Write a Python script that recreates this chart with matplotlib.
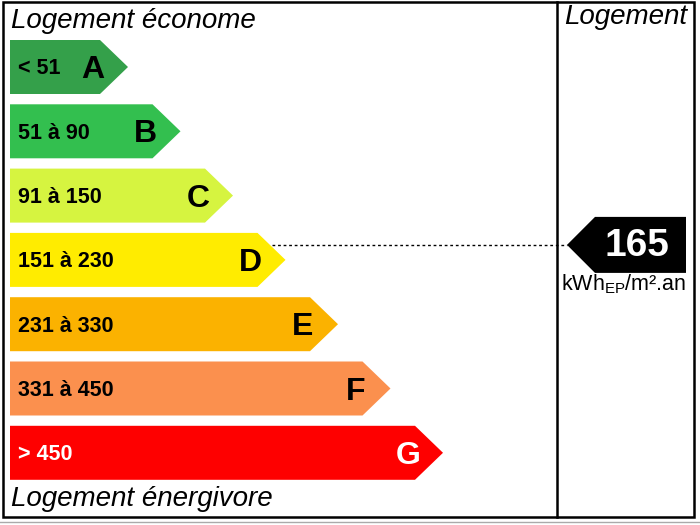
import matplotlib
matplotlib.use("Agg")
import matplotlib.pyplot as plt
from matplotlib.patches import Polygon, Rectangle

plt.rcParams['font.family'] = ['Liberation Sans', 'DejaVu Sans']

classes = ['A', 'B', 'C', 'D', 'E', 'F', 'G']
ranges = ['< 51', '51 à 90', '91 à 150', '151 à 230', '231 à 330', '331 à 450', '> 450']
lower = [0, 51, 91, 151, 231, 331, 451]
upper = [50, 90, 150, 230, 330, 450, 10000]
colors = ['#34a04a', '#33bf4f', '#d6f440', '#ffec00', '#fbb200', '#fb904e', '#fe0000']
text_colors = ['black', 'black', 'black', 'black', 'black', 'black', 'white']
value = 165

fig = plt.figure(figsize=(7, 5.25), dpi=100)
ax = fig.add_axes([0, 0, 1, 1])
ax.set_xlim(0, 700)
ax.set_ylim(525, 0)
ax.axis('off')

# frame
ax.add_patch(Rectangle((3, 2), 691, 515, fill=False, ec='black', lw=1.8))
ax.plot([557, 557], [2, 517], color='black', lw=1.8)
ax.plot([0, 700], [522, 522], color='#aaaaaa', lw=1)

x0 = 10
h = 54
gap = 64.3
top0 = 40
tip0 = 128
step = 52.5
depth = 28

for i, (c, r, col, tc) in enumerate(zip(classes, ranges, colors, text_colors)):
    y = top0 + i * gap
    tip = tip0 + i * step
    poly = Polygon([(x0, y), (tip - depth, y), (tip, y + h / 2),
                    (tip - depth, y + h), (x0, y + h)],
                   closed=True, fc=col, ec='none')
    ax.add_patch(poly)
    ax.text(x0 + 8, y + h / 2 + 2, r, ha='left', va='center',
            fontsize=15.5, fontweight='bold', color=tc)
    ax.text(tip - 35, y + h / 2 + 3, c, ha='center', va='center',
            fontsize=23, fontweight='bold', color=tc)

ax.text(11, 21, 'Logement économe', ha='left', va='center',
        fontsize=20, style='italic')
ax.text(11, 499, 'Logement énergivore', ha='left', va='center',
        fontsize=20, style='italic')
ax.text(626, 17, 'Logement', ha='center', va='center',
        fontsize=20, style='italic')

# marker for the value, next to its class
k = next(i for i in range(len(classes)) if lower[i] <= value <= upper[i])
ym = top0 + k * gap + 12
tip_k = tip0 + k * step
ax.plot([tip_k - 14, 567], [ym, ym], color='black', lw=1,
        linestyle=(0, (2, 2)))
ax.add_patch(Polygon([(567, ym), (567 + depth, ym - h / 2 - 1), (686, ym - h / 2 - 1),
                      (686, ym + h / 2 + 1), (567 + depth, ym + h / 2 + 1)],
                     closed=True, fc='black', ec='none'))
ax.text(637, ym + 1, str(value), ha='center', va='center',
        fontsize=28, fontweight='bold', color='white')
ax.text(624, ym + 39, r'kWh$_{\mathregular{EP}}$/m².an', ha='center', va='center',
        fontsize=15.5)

fig.savefig('out.png', dpi=100)
